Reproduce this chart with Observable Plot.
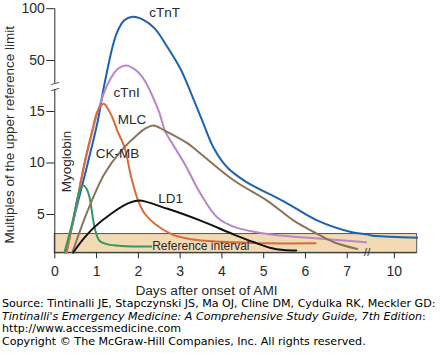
<!DOCTYPE html>
<html><head><meta charset="utf-8">
<script src="https://cdn.jsdelivr.net/npm/d3@7"></script>
<script src="https://cdn.jsdelivr.net/npm/@observablehq/plot@0.6"></script>
<style>
body{margin:0;background:#fff;}
#chart svg{display:block;}
.cap{font-family:"DejaVu Sans",sans-serif;font-size:11.1px;line-height:12.7px;padding-left:2px;color:#000;white-space:nowrap;}
</style></head><body>
<div id="chart"></div>
<div class="cap">Source: Tintinalli JE, Stapczynski JS, Ma OJ, Cline DM, Cydulka RK, Meckler GD:<br><i>Tintinalli's Emergency Medicine: A Comprehensive Study Guide, 7th Edition</i>:<br>http://www.accessmedicine.com<br>Copyright © The McGraw-Hill Companies, Inc. All rights reserved.</div>
<script>
// ---- data (days after onset, multiples of upper reference limit) ----
const cTnT_days = [0.27,0.48,0.79,1.03,1.19,1.47,1.67,1.87,2.11,2.39,2.71,3.03,3.27,3.51,3.81,4.13,4.57,5.49,6.29,7.09,7.5,9.5,9.78,10.5];
const cTnT_vals = [1.3,5.0,10.0,14.1,34,75,89,92.3,89.5,81,62,43,27,14.3,11.4,9.56,8.2,6.26,4.4,3.3,3.05,2.95,2.86,2.75];

const cTnI_days = [0.28,0.47,0.72,0.91,1.05,1.27,1.51,1.71,1.95,2.15,2.35,2.51,2.63,2.87,3.11,3.49,3.89,4.29,5.09,5.89,6.69,7.45];
const cTnI_vals = [1.3,5.0,10.0,13.2,17.1,34,44.3,46.6,43.1,36.3,24.8,14.8,13.2,11.5,9.9,7.0,4.7,3.8,3.1,2.8,2.55,2.3];

const MLC_days = [0.28,0.47,0.71,0.90,1.02,1.17,1.27,1.39,1.49,1.67,1.83,1.99,2.15,2.39,2.79,3.19,3.59,4.29,5.09,6.24];
const MLC_vals = [1.3,5.0,10.0,13.2,15.0,20.3,16.9,14.3,13.2,11.5,8.6,6.4,5.1,4.1,3.1,2.65,2.45,2.3,2.2,2.2];

const Myo_days = [0.23,0.43,0.55,0.63,0.70,0.76,0.83,0.91,0.97,1.07,1.27,1.59,2.31];
const Myo_vals = [1.3,4.4,6.7,7.65,7.8,7.5,6.7,4.7,3.45,2.45,2.1,1.95,1.9];

const CKMB_days = [0.42,0.79,1.19,1.59,1.99,2.17,2.36,2.63,3.18,3.49,4.29,5.08,5.72,6.2,6.68,7.24];
const CKMB_vals = [1.3,5.4,8.95,11.2,12.8,13.35,13.65,13.15,11.9,10.9,8.3,6.35,4.4,3.3,2.3,1.65];

const LD1_days = [0.44,0.69,0.94,1.34,1.74,2.01,2.70,3.49,4.29,4.77,5.17,5.48,5.78];
const LD1_vals = [1.3,2.65,3.75,5.05,6.05,6.35,5.55,4.4,3.05,2.3,1.75,1.55,1.5];

const seriesNames  = ["cTnT","cTnI","MLC","Myoglobin","CK-MB","LD1"];
const seriesColors = ["#1d62ae","#b985cb","#d96a3b","#2f9a62","#8c7358","#111111"];
const labelDays = [2.63, 1.72, 1.85, 0.29, 1.50, 2.77];
const labelVals = [95.8, 28.0, 14.2, 10.15, 10.9, 6.55];

const refInterval = [1.28, 3.1];          // reference interval band
const refLabel = {day: 2.33, value: 1.89, text: "Reference interval"};
const xTicks = [0,1,2,3,4,5,6,7,10];
const yTicks = [5,10,15,50,100];

// broken axes: data knots -> display units (linear axis drawn by Plot)
const xKnots = [0, 7.5, 9.5, 10.5], xKnotUnits = [0, 7.5, 7.58, 8.674];
const yKnots = [1.28, 15, 50, 100], yKnotUnits = [0, 141.3, 192.3, 244.1];
const yBreak = [30.1, 34.2];
const xBreak = 7.5;
const xu = d3.scaleLinear().domain(xKnots).range(xKnotUnits);
const yu = d3.scaleLinear().domain(yKnots).range(yKnotUnits);

// ---- build tables ----
const allDays = [cTnT_days,cTnI_days,MLC_days,Myo_days,CKMB_days,LD1_days];
const allVals = [cTnT_vals,cTnI_vals,MLC_vals,Myo_vals,CKMB_vals,LD1_vals];
const rows = [];
seriesNames.forEach((s,i) => allDays[i].forEach((d,j) => rows.push({series:s, day:d, value:allVals[i][j]})));
const labels = seriesNames.map((s,i) => ({series:s, day:labelDays[i], value:labelVals[i]}));

const xTickPos = xTicks.map(xu), yTickPos = yTicks.map(yu);
const xFmt = t => { const i = xTickPos.findIndex(p => Math.abs(p - t) < 1e-6); return i < 0 ? "" : String(xTicks[i]); };
const yFmt = t => { const i = yTickPos.findIndex(p => Math.abs(p - t) < 1e-6); return i < 0 ? "" : String(yTicks[i]); };

const X = d => xu(d.day), Y = d => yu(d.value);
const ink = "#2a2a2a";
const chart = Plot.plot({
  width: 441, height: 298,
  marginLeft: 54.3, marginRight: 24.3, marginTop: 8.2, marginBottom: 45.7,
  style: {fontFamily: "'Liberation Sans', Arial, sans-serif", fontSize: "14px", color: ink, background: "#fff", overflow: "visible"},
  x: {domain: [xu(xKnots[0]), xu(xKnots[3])]},
  y: {domain: [yu(yKnots[0]), yu(yKnots[3])]},
  color: {domain: seriesNames, range: seriesColors},
  marks: [
    Plot.rect([refInterval], {x1: xu(xKnots[0]), x2: xu(xKnots[3]), y1: d => yu(d[0]), y2: d => yu(d[1]), fill: "#f2dbb4", stroke: "#555", strokeWidth: 1}),
    Plot.ruleX([xu(xKnots[0])], {y1: yu(yKnots[0]), y2: yu(yBreak[0]), stroke: ink}),
    Plot.ruleX([xu(xKnots[0])], {y1: yu(yBreak[1]), y2: yu(yKnots[3]), stroke: ink}),
    Plot.ruleY([yu(yKnots[0])], {x1: xu(xKnots[0]), x2: xu(xKnots[3]), stroke: ink}),
    Plot.line(rows, {x: X, y: Y, z: "series", stroke: "series", strokeWidth: 2, curve: "catmull-rom"}),
    Plot.text(labels.filter(d => d.series !== "Myoglobin"), {x: X, y: Y, text: "series", fontSize: 13.5}),
    Plot.text(labels.filter(d => d.series === "Myoglobin"), {x: X, y: Y, text: "series", fontSize: 13.5, rotate: -90}),
    Plot.text([refLabel], {x: X, y: Y, text: "text", textAnchor: "start", fontSize: 12}),
    Plot.text(["\\ \\"], {x: xu(xKnots[0]), y: yu((yBreak[0]+yBreak[1])/2), rotate: 90, fontSize: 11}),
    Plot.text(["//"], {x: xu(xBreak), y: yu(yKnots[0]), fontSize: 11, dx: -1}),
    Plot.axisY({ticks: yTickPos, tickFormat: yFmt, tickSize: 8, tickPadding: 2, fontSize: 14, label: null, stroke: ink}),
    Plot.axisX({ticks: xTickPos, tickFormat: xFmt, tickSize: 6, tickPadding: 7, fontSize: 14, label: null, stroke: ink}),
    Plot.text(["Multiples of the upper reference limit"], {frameAnchor: "left", textAnchor: "middle", lineAnchor: "middle", rotate: -90, dx: -45, dy: 4, fontSize: 13.5}),
    Plot.text(["Days after onset of AMI"], {frameAnchor: "bottom", textAnchor: "middle", lineAnchor: "middle", dx: -29.5, dy: 37.6, fontSize: 13.7})
  ]
});
document.getElementById("chart").appendChild(chart);
</script></body></html>
